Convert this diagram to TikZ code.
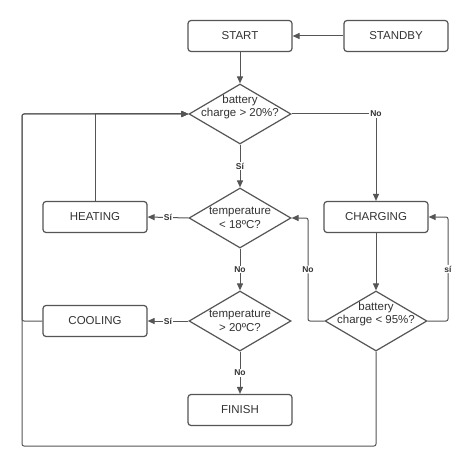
\documentclass[tikz,border=0pt]{standalone}
\usepackage{fontspec}
\setmainfont{Liberation Sans}
\usetikzlibrary{shapes.geometric,arrows.meta}
\definecolor{ln}{HTML}{555555}
\definecolor{tx}{HTML}{333333}
\begin{document}
\begin{tikzpicture}[x=1pt,y=-1pt,
  box/.style={draw=ln, line width=1.2pt, rounded corners=3pt, minimum width=104pt, minimum height=31pt, inner sep=0pt, font=\fontsize{11.5}{13.6}\selectfont, text=tx},
  dia/.style={draw=ln, line width=1.2pt, diamond, minimum width=102pt, minimum height=60pt, inner sep=0pt},
  dtext/.style={font=\fontsize{11.5}{13.8}\selectfont, text=tx, align=center, inner sep=0pt},
  conn/.style={draw=ln, line width=1pt, -{Triangle[length=7pt,width=6pt]}},
  lbl/.style={font=\bfseries\fontsize{8.5}{9}\selectfont, text=tx, fill=white, inner sep=1pt}
]
\useasboundingbox[fill=white] (0,0) rectangle (474,468);
% nodes
\node[box] (start) at (240,36) {START};
\node[box] (standby) at (396,36) {STANDBY};
\node[dia] (d1) at (240,114) {};
\node[dtext] (d1t) at (240,107) {battery\\charge > 20\%?};
\node[dia] (d2) at (240,218) {};
\node[dtext] (d2t) at (240,218) {temperature\\< 18ºC?};
\node[dia] (d3) at (240,321) {};
\node[dtext] (d3t) at (240,321) {temperature\\> 20ºC?};
\node[box] (heating) at (95,217) {HEATING};
\node[box] (cooling) at (95,321) {COOLING};
\node[box] (finish) at (240,410) {FINISH};
\node[box] (charging) at (376,217) {CHARGING};
\node[dia] (d4) at (376,321) {};
\node[dtext] (d4t) at (376,314) {battery\\charge < 95\%?};
\coordinate (bl) at (22,446);
\coordinate (br) at (376,446);
\coordinate (cl) at (22,321);
\coordinate (rr) at (448,321);
\coordinate (rl) at (308,321);
% connectors
\draw[conn] (standby) -- (start);
\draw[conn] (start) -- (d1.north);
\draw[conn] (d1.east) -| node[lbl,pos=0.5]{No} (charging.north);
\draw[conn] (d1.south) -- node[lbl]{Sí} (d2.north);
\draw[conn] (d2.west) -- node[lbl]{Sí} (heating.east);
\draw[conn] (d2.south) -- node[lbl]{No} (d3.north);
\draw[conn] (d3.west) -- node[lbl]{Sí} (cooling.east);
\draw[conn] (d3.south) -- node[lbl]{No} (finish.north);
\draw[conn] (heating.north) |- (d1.west);
\draw[conn, rounded corners=2pt] (cooling.west) -- (cl) |- (d1.west);
\draw[conn] (charging.south) -- (d4.north);
\draw[conn, rounded corners=2pt] (d4.east) -- (rr) |- node[lbl,pos=0.25]{sí} (charging.east);
\draw[conn, rounded corners=2pt] (d4.west) -- (rl) |- node[lbl,pos=0.25]{No} (d2.east);
\draw[conn, rounded corners=2pt] (d4.south) -- (br) -- (bl) |- (d1.west);
\end{tikzpicture}
\end{document}
